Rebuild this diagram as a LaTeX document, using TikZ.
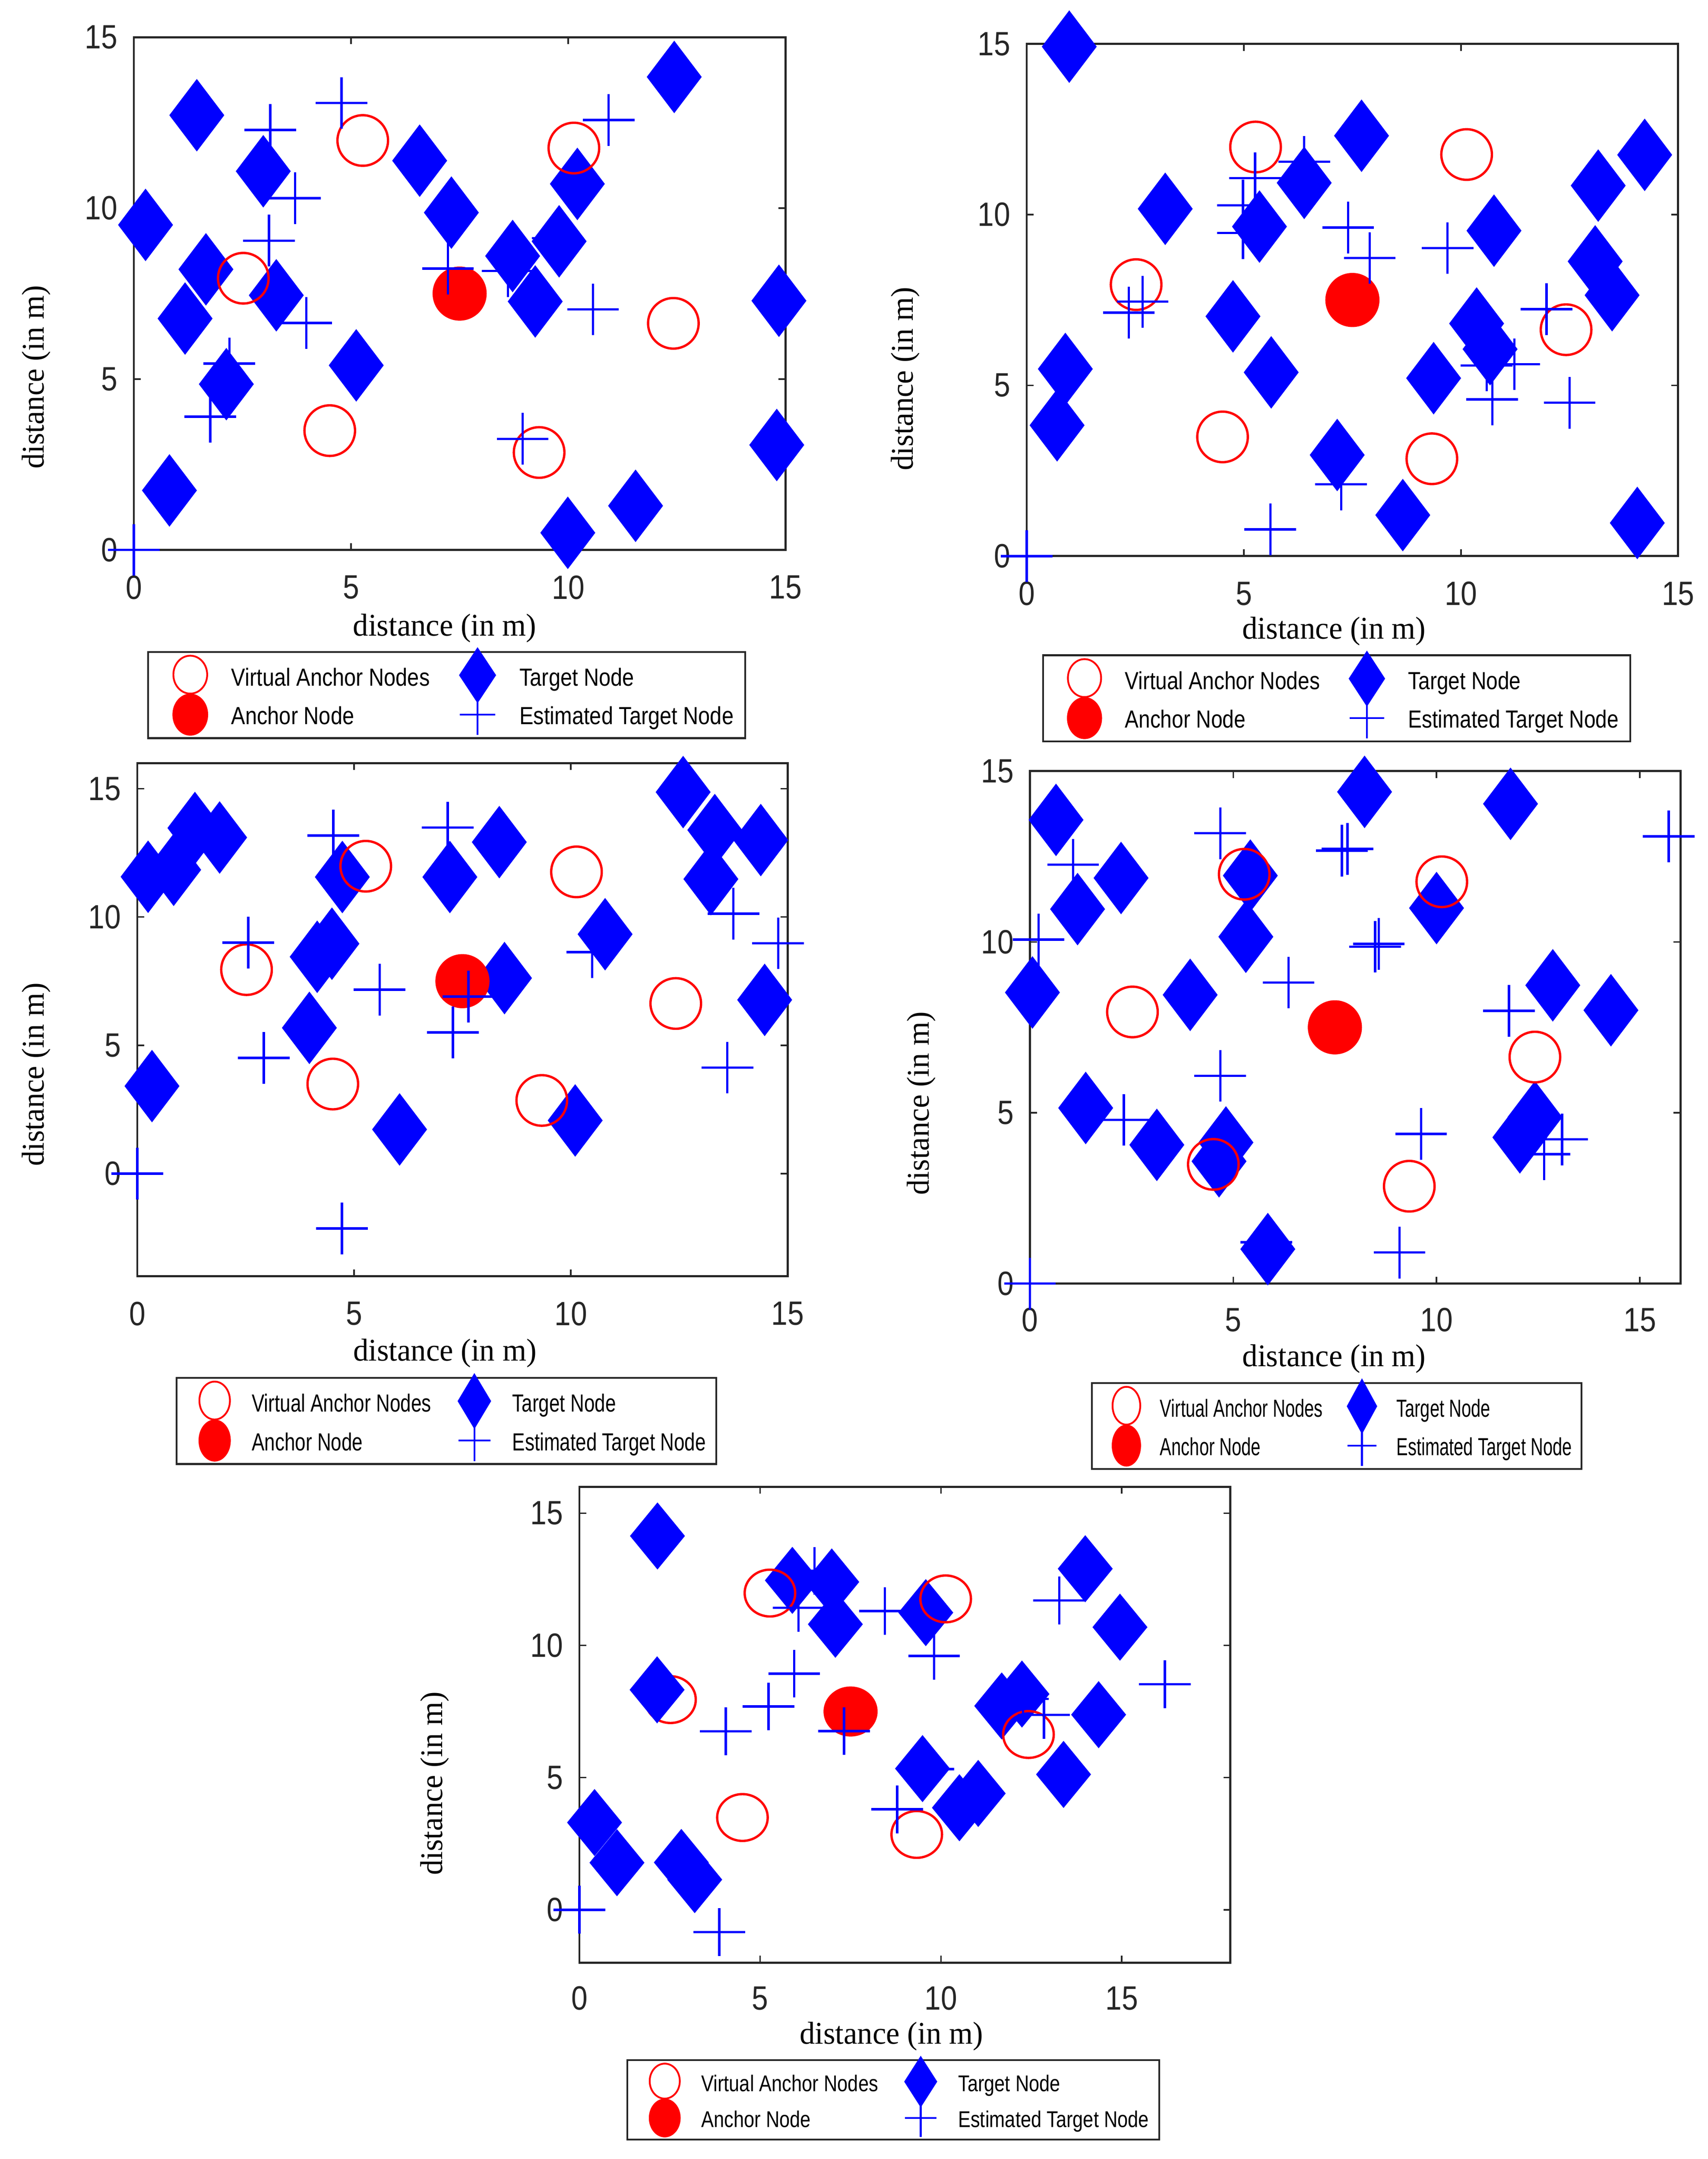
\documentclass[tikz,border=0pt]{standalone}
\usepackage{fontspec}
\setmainfont{Liberation Serif}
\setsansfont{Liberation Sans}
\usepackage{graphicx}
\definecolor{axc}{HTML}{262626}
\newcommand\myvs{1}
\tikzset{
  axisline/.style={draw=axc, line width=1.5pt},
  tickline/.style={draw=axc, line width=1.1pt},
  ticklab/.style={inner sep=0pt, text=axc, font=\sffamily\fontsize{24.5}{24.5}\selectfont},
  axlab/.style={inner sep=0pt, text=black, font=\rmfamily\fontsize{23}{23}\selectfont},
  legtext/.style={inner sep=0pt, anchor=base west, text=black, font=\sffamily\fontsize{18}{18}\selectfont, transform shape},
  legbox/.style={draw=axc, line width=1.3pt},
  vcirc/.style={draw=red, line width=1.7pt},
  dia/.pic={\fill[blue] (-20pt,0pt) -- (0pt,{26.4pt*\myvs}) -- (20pt,0pt) -- (0pt,{-26.4pt*\myvs}) -- cycle;},
  pls/.pic={\draw[blue, line width=1.7pt] (-18.8pt,0pt) -- (18.8pt,0pt) (0pt,{-18.8pt*\myvs}) -- (0pt,{18.8pt*\myvs});},
}
% #1 x0, #2 y0 (down), #3 ux, #4 uy, #5 xmin, #6 xmax, #7 ymin, #8 ymax, #9 xtick label offset
\newcommand\panelaxes[9]{%
 \begin{scope}[shift={(#1pt,-#2pt)}, x=#3pt, y=#4pt]
  \draw[axisline] (#5,#7) rectangle (#6,#8);
  \foreach \t in {0,5,10,15}{
    \draw[tickline] (\t,#7) -- ++(0,5pt);
    \draw[tickline] (\t,#8) -- ++(0,-5pt);
    \draw[tickline] (#5,\t) -- ++(5pt,0);
    \draw[tickline] (#6,\t) -- ++(-5pt,0);
    \node[ticklab, yshift=-#9pt] at (\t,#7) {\scalebox{0.87}[1]{\t}};
    \node[ticklab, anchor=east, xshift=-11.7pt] at (#5,\t) {\scalebox{0.87}[1]{\t}};
  }
 \end{scope}}
\newcommand\vanchors{%
 \foreach \a/\b in {5.27/11.98,10.13/11.76,2.52/7.95,12.42/6.63,4.51/3.49,9.33/2.85}
   \draw[vcirc] (\a,\b) ellipse [x radius=18.4pt, y radius={18.4pt*\myvs}];
 \fill[red] (7.5,7.5) ellipse [x radius=19.7pt, y radius={19.7pt*\myvs}];}
% #1 left, #2 top (down), #3 xscale, #4 yscale
\newcommand\mylegend[4]{%
 \begin{scope}[shift={(#1pt,-#2pt)}, xscale=#3, yscale=#4]
  \draw[legbox] (0pt,0pt) rectangle (434.7pt,-62.8pt);
  \draw[red, line width=1.3pt] (30.7pt,-16.6pt) ellipse [x radius=12.3pt, y radius=13.8pt];
  \fill[red] (30.7pt,-45.7pt) ellipse [x radius=13pt, y radius=15.3pt];
  \fill[blue] (226.3pt,-17pt) -- (239.8pt,3.4pt) -- (253.3pt,-17pt) -- (239.8pt,-37.4pt) -- cycle;
  \draw[blue, line width=1.3pt] (226.9pt,-45.7pt) -- (252.7pt,-45.7pt) (239.8pt,-30.8pt) -- (239.8pt,-60.6pt);
  \node[legtext] at (60.4pt,-24.7pt) {\scalebox{0.851}[1]{Virtual Anchor Nodes}};
  \node[legtext] at (60.4pt,-52.9pt) {\scalebox{0.851}[1]{Anchor Node}};
  \node[legtext] at (270.2pt,-24.7pt) {\scalebox{0.851}[1]{Target Node}};
  \node[legtext] at (270.2pt,-52.9pt) {\scalebox{0.851}[1]{Estimated Target Node}};
 \end{scope}}
\begin{document}
\begin{tikzpicture}[x=1pt,y=1pt]
\fill[white] (0,0) rectangle (1243,-1571.3);
\useasboundingbox (0,0) rectangle (1243,-1571.3);

% ---------- axes ----------
\panelaxes{97.4}{400.2}{31.62}{24.87}{0}{15}{0}{15}{27.3}
\panelaxes{747.3}{404.7}{31.61}{24.85}{0}{15}{0}{15}{27.3}
\panelaxes{99.9}{854.1}{31.56}{18.67}{0}{15}{-4}{16}{27.3}
\panelaxes{749.7}{934.2}{29.59}{24.87}{0}{16}{0}{15}{26.5}
\panelaxes{421.7}{1389.9}{26.32}{19.24}{0}{18}{-2}{16}{25.9}

% ---------- panel 1 ----------
\begin{scope}[shift={(97.4pt,-400.2pt)}, x=31.62pt, y=24.87pt]
 \foreach \a/\b in {1.45/12.72,2.98/11.08,0.27/9.51,1.66/8.21,1.18/6.77,3.28/7.45,2.13/4.85,5.12/5.40,0.82/1.74,6.58/11.39,7.31/9.87,8.72/8.60,9.79/9.03,9.24/7.27,10.21/10.71,12.44/13.84,14.85/7.29,14.80/3.07,11.55/1.29,9.99/0.50}
   \pic at (\a,\b) {dia};
 \vanchors
 \foreach \a/\b in {4.78/13.08,3.14/12.29,3.71/10.29,3.11/9.05,3.97/6.64,2.20/5.45,1.76/3.90,7.23/8.23,10.57/7.04,10.93/12.58,8.95/3.25,0/0,8.61/8.16,9.76/9.12}
   \pic at (\a,\b) {pls};
\end{scope}

% ---------- panel 2 ----------
\begin{scope}[shift={(747.3pt,-404.7pt)}, x=31.61pt, y=24.85pt]
 \foreach \a/\b in {0.98/14.92,3.19/10.17,7.71/12.31,6.39/10.93,5.36/9.65,10.76/9.53,13.16/10.85,14.23/11.75,13.09/8.63,13.48/7.64,4.75/7.02,10.36/6.81,10.67/6.06,0.89/5.48,0.70/3.83,5.63/5.38,9.37/5.21,7.15/2.96,8.66/1.20,14.06/0.97}
   \pic at (\a,\b) {dia};
 \vanchors
 \foreach \a/\b in {6.39/11.55,5.26/11.07,4.98/10.27,4.98/9.46,7.40/9.62,7.90/8.73,9.69/9.02,2.35/7.13,2.67/7.45,11.97/7.23,11.23/5.62,10.59/5.58,10.72/4.59,12.50/4.49,7.24/2.10,5.61/0.78,0/0}
   \pic at (\a,\b) {pls};
\end{scope}

% ---------- panel 3 ----------
\begin{scope}[shift={(99.9pt,-854.1pt)}, x=31.56pt, y=18.67pt]
 \foreach \a/\b in {1.33/13.47,1.90/13.10,0.25/11.57,0.84/11.84,4.73/11.56,7.21/11.56,8.35/12.92,10.79/9.33,12.59/14.87,13.32/13.39,14.38/13.00,13.23/11.48,4.49/8.96,4.15/8.45,8.47/7.62,3.97/5.68,0.34/3.41,6.05/1.72,10.10/2.07,14.47/6.77}
   \pic at (\a,\b) {dia};
 \vanchors
 \foreach \a/\b in {4.52/13.18,7.16/13.49,2.56/9.00,5.59/7.17,7.64/6.90,7.28/5.50,2.92/4.51,10.49/8.63,13.75/10.13,14.78/8.98,13.61/4.13,0/0,4.72/-2.14}
   \pic at (\a,\b) {pls};
\end{scope}

% ---------- panel 4 ----------
\begin{scope}[shift={(749.7pt,-934.2pt)}, x=29.59pt, y=24.87pt]
 \foreach \a/\b in {0.64/13.57,2.24/11.87,1.17/10.96,8.23/14.39,11.82/14.04,5.42/11.94,5.31/10.15,10.00/10.99,0.06/8.52,3.94/8.45,12.86/8.73,14.29/8.00,1.37/5.14,3.12/4.06,4.82/4.13,4.65/3.58,5.85/1.01,12.05/4.28,12.42/4.87}
   \pic at (\a,\b) {dia};
 \vanchors
 \foreach \a/\b in {4.68/13.18,1.06/12.26,7.67/12.67,7.81/12.72,0.21/10.07,8.49/9.86,8.58/9.94,6.36/8.81,15.71/13.09,11.78/7.98,4.68/6.08,2.31/4.79,9.62/4.38,13.09/4.22,12.65/3.79,5.81/1.21,9.09/0.91,0/0}
   \pic at (\a,\b) {pls};
\end{scope}

% ---------- panel 5 ----------
\begin{scope}[shift={(421.7pt,-1389.9pt)}, x=26.32pt, y=19.24pt]
 \renewcommand\myvs{0.925}
 \foreach \a/\b in {2.16/14.14,5.89/12.46,6.98/12.40,7.08/10.80,9.58/11.24,13.99/12.90,14.95/10.69,11.68/7.71,12.24/8.16,14.36/7.38,9.49/5.34,10.51/3.86,11.03/4.40,13.39/5.12,0.42/3.30,1.04/1.78,2.82/1.79,3.19/1.14}
   \pic at (\a,\b) {dia};
 \vanchors
 \pic at (2.15,8.32) {dia};
 \foreach \a/\b in {6.50/12.82,6.06/11.42,8.45/11.30,13.27/11.70,9.81/9.60,5.94/8.93,5.23/7.69,4.05/6.75,7.32/6.76,12.85/7.37,16.19/8.53,8.79/3.80,0/0,3.87/-0.84,9.65/5.32,12.27/7.98}
   \pic at (\a,\b) {pls};
\end{scope}

% ---------- axis labels ----------
\node[axlab, anchor=base] (xl1) at (323.7,-462.8) {\scalebox{0.967}[1]{distance (in m)}};
\node[axlab, anchor=base] (xl2) at (971.0,-465.0) {\scalebox{0.967}[1]{distance (in m)}};
\node[axlab, anchor=base] (xl3) at (323.8,-990.5) {\scalebox{0.967}[1]{distance (in m)}};
\node[axlab, anchor=base] (xl4) at (971.1,-994.4) {\scalebox{0.967}[1]{distance (in m)}};
\node[axlab, anchor=base] (xl5) at (648.8,-1487.6) {\scalebox{0.967}[1]{distance (in m)}};
\node[axlab, anchor=base, rotate=90] (yl1) at (32.0,-274.5) {\scalebox{0.967}[1]{distance (in m)}};
\node[axlab, anchor=base, rotate=90] (yl2) at (664.5,-275.7) {\scalebox{0.967}[1]{distance (in m)}};
\node[axlab, anchor=base, rotate=90] (yl3) at (32.0,-782.0) {\scalebox{0.967}[1]{distance (in m)}};
\node[axlab, anchor=base, rotate=90] (yl4) at (676.0,-803.0) {\scalebox{0.967}[1]{distance (in m)}};
\node[axlab, anchor=base, rotate=90] (yl5) at (322.0,-1298.0) {\scalebox{0.967}[1]{distance (in m)}};

% ---------- legends ----------
\mylegend{107.8}{474.4}{1}{1}
\mylegend{759.2}{476.9}{0.983}{1}
\mylegend{128.5}{1002.7}{0.904}{1}
\mylegend{794.7}{1006.5}{0.820}{0.997}
\mylegend{456.5}{1499.3}{0.891}{0.922}
\end{tikzpicture}
\end{document}
